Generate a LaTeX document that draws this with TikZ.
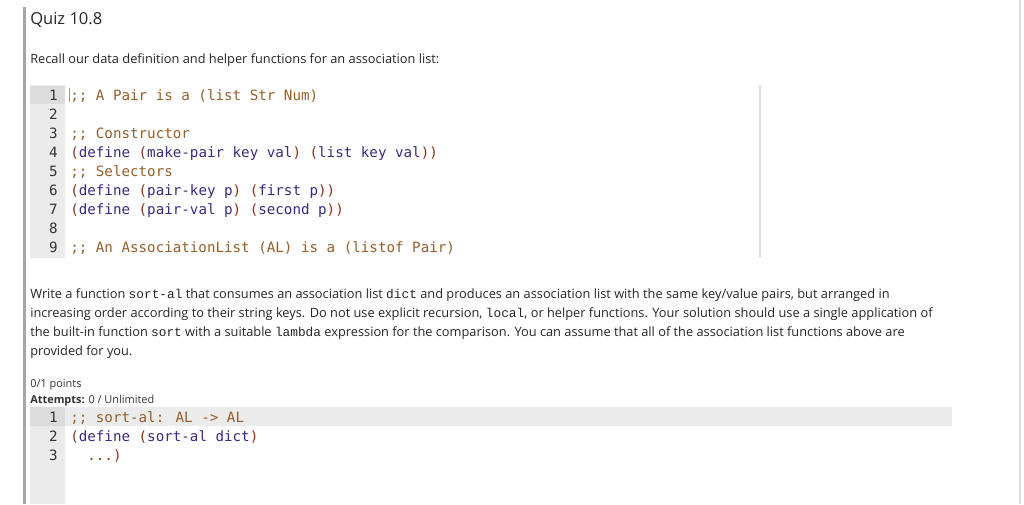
\documentclass[tikz,border=0pt]{standalone}
\usepackage{fontspec}
\setmainfont{Open Sans}
\newfontfamily\cm{DejaVu Sans Mono}
\newfontfamily\ic{Liberation Mono}
\definecolor{cmt}{HTML}{955F2C}
\definecolor{par}{HTML}{86351A}
\definecolor{wrd}{HTML}{3A2A80}
\definecolor{gut}{HTML}{EBEBEB}
\definecolor{gutd}{HTML}{DCDCDC}
\newcommand{\Pa}[1]{\textcolor{par}{#1}}
\newcommand{\Wd}[1]{\textcolor{wrd}{#1}}
\newcommand{\Ic}[1]{{\ic\fontsize{9.6pt}{11pt}\selectfont #1}}
\begin{document}
\begin{tikzpicture}[x=0.75pt,y=-0.75pt,
  txt/.style={anchor=base west,inner sep=0,font=\fontsize{9.6pt}{12pt}\selectfont,text=black!85},
  code/.style={anchor=base west,inner sep=0,font=\cm\fontsize{10.65pt}{12pt}\selectfont},
  num/.style={anchor=base east,inner sep=0,font=\cm\fontsize{10.65pt}{12pt}\selectfont,text=black!80},
  small/.style={anchor=base west,inner sep=0,font=\fontsize{8.2pt}{10pt}\selectfont,text=black!80}]
\useasboundingbox (0,0) rectangle (1024,504);
\fill[white] (0,0) rectangle (1024,504);
% frame bars
\fill[black!35] (23,7) rectangle (26,504);
\fill[black!13] (1019,0) rectangle (1021,504);
% title
\node[anchor=base west,inner sep=0,font=\fontsize{12.4pt}{14pt}\selectfont,text=black!85] (title) at (30,24) {Quiz 10.8};
\node[txt] (intro) at (30,63) {Recall our data definition and helper functions for an association list:};
% code box 1
\fill[gut] (30,85) rectangle (65,258);
\fill[gutd] (30,86) rectangle (65,104);
\draw[black!12,line width=1] (760,85) -- (760,258);
\draw[black!40,line width=0.5] (69.5,88) -- (69.5,102);
\foreach \i in {1,...,9} \node[num] (n\i) at (58,{100+19*(\i-1)}) {\i};
\node[code,text=cmt] (c1) at (70,100) {;; A Pair is a (list Str Num)};
\node[code,text=cmt] (c3) at (70,138) {;; Constructor};
\node[code] (c4) at (70,157) {\Pa{(}\Wd{define} \Pa{(}\Wd{make-pair key val}\Pa{)} \Pa{(}\Wd{list key val}\Pa{))}};
\node[code,text=cmt] (c5) at (70,176) {;; Selectors};
\node[code] (c6) at (70,195) {\Pa{(}\Wd{define} \Pa{(}\Wd{pair-key p}\Pa{)} \Pa{(}\Wd{first p}\Pa{))}};
\node[code] (c7) at (70,214) {\Pa{(}\Wd{define} \Pa{(}\Wd{pair-val p}\Pa{)} \Pa{(}\Wd{second p}\Pa{))}};
\node[code,text=cmt] (c9) at (70,252) {;; An AssociationList (AL) is a (listof Pair)};
% paragraph
\node[txt] (p1) at (30,298) {Write a function \Ic{sort-al} that consumes an association list \Ic{dict} and produces an association list with the same key/value pairs, but arranged in};
\node[txt] (p2) at (30,317) {increasing order according to their string keys. Do not use explicit recursion, \Ic{local}, or helper functions. Your solution should use a single application of};
\node[txt] (p3) at (30,336) {the built-in function \Ic{sort} with a suitable \Ic{lambda} expression for the comparison. You can assume that all of the association list functions above are};
\node[txt] (p4) at (30,355) {provided for you.};
\node[small] (pts) at (30,387) {0/1 points};
\node[small] (att) at (30,403) {\textbf{Attempts:} 0 / Unlimited};
% code box 2
\fill[gut] (30,407) rectangle (65,504);
\fill[gut] (65,407) rectangle (952,426);
\fill[gutd] (30,407) rectangle (65,426);
\foreach \i in {1,2,3} \node[num] (m\i) at (58,{422+19*(\i-1)}) {\i};
\node[code,text=cmt] (d1) at (70,422) {;; sort-al: AL -> AL};
\node[code] (d2) at (70,441) {\Pa{(}\Wd{define} \Pa{(}\Wd{sort-al dict}\Pa{)}};
\node[code,text=par] (d3) at (70,460) {\ \ ...)};
\end{tikzpicture}
\end{document}
